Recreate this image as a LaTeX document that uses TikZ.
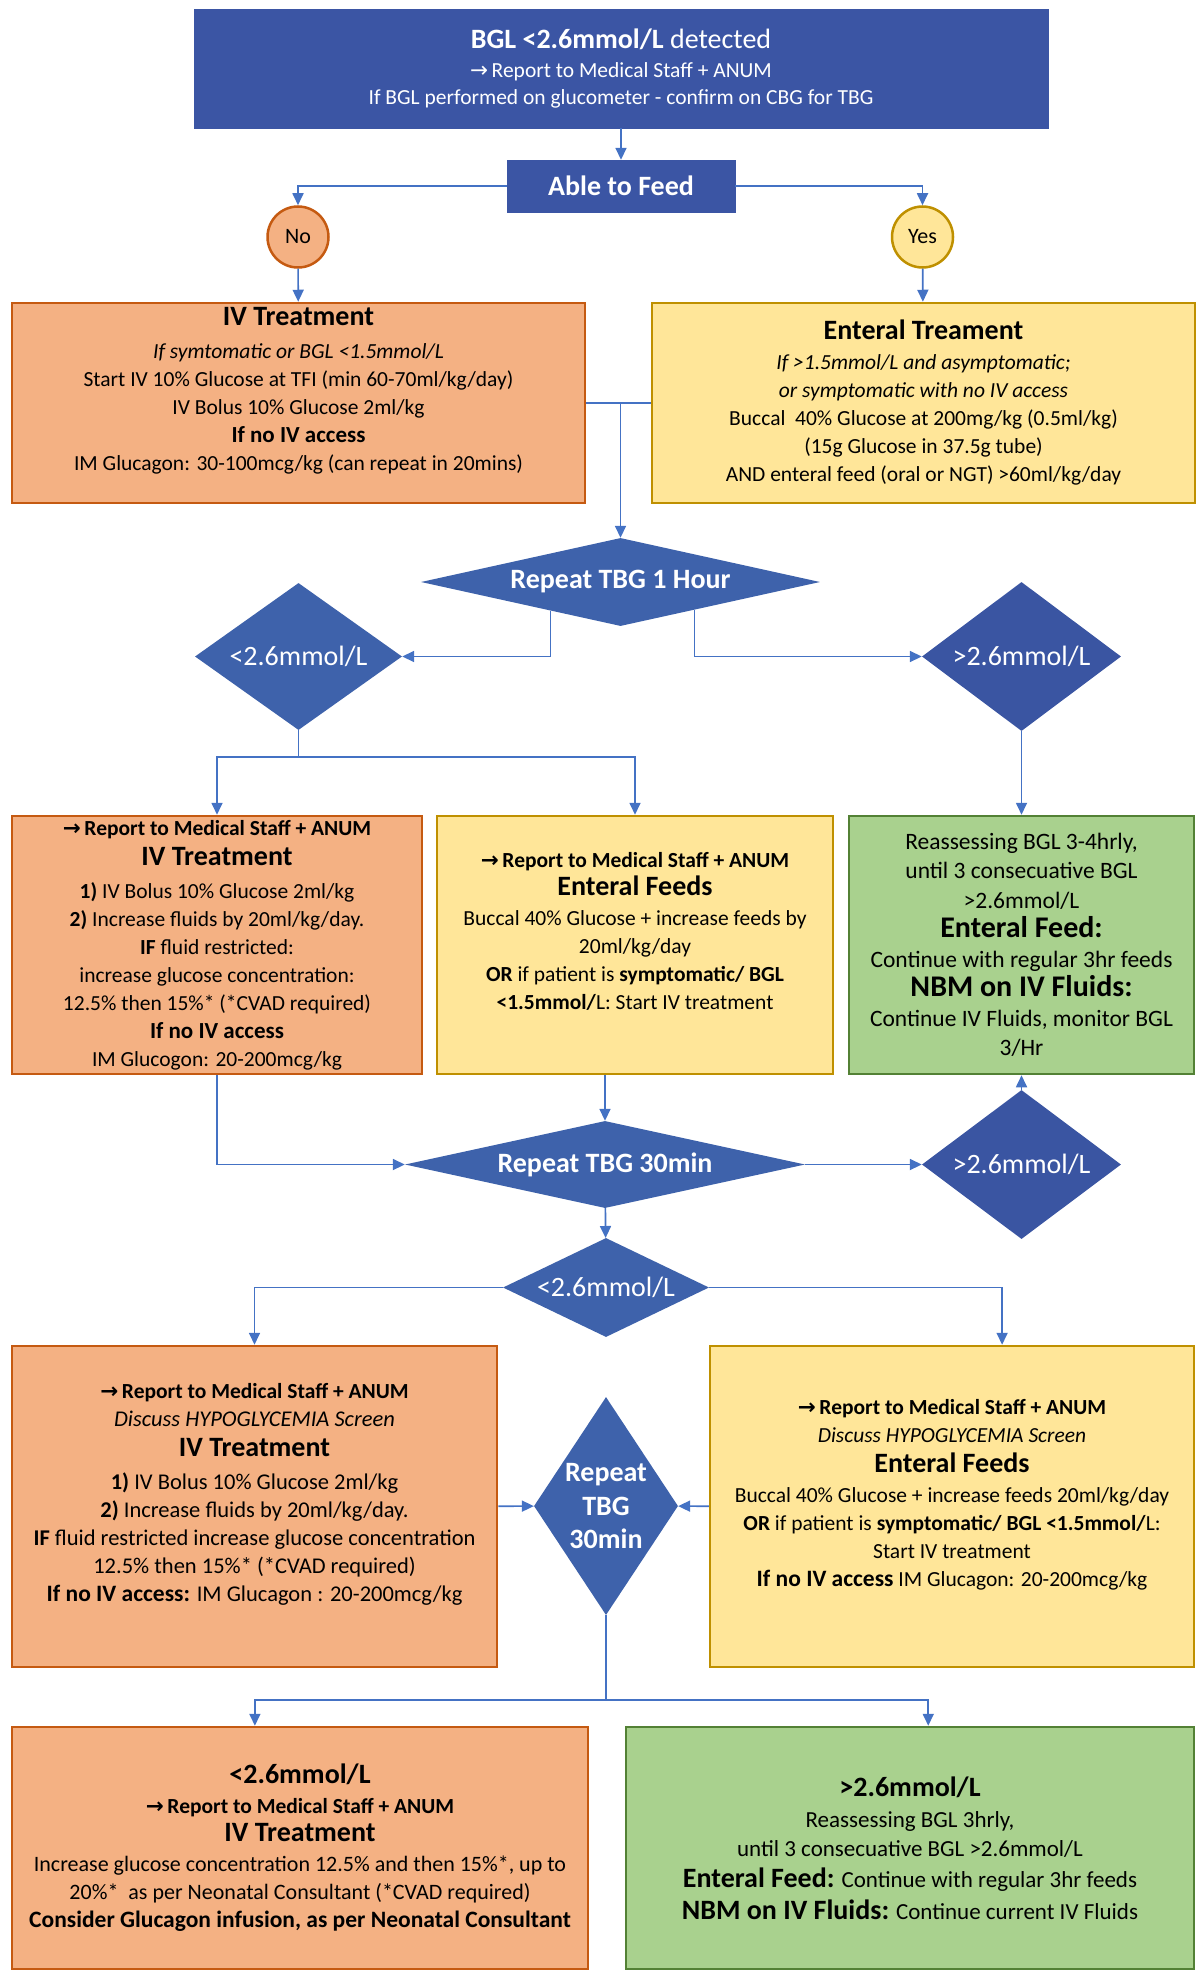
\documentclass[tikz,border=0pt]{standalone}
\usepackage{fontspec}
\setmainfont{Carlito}
\newfontfamily\arrowfont{DejaVu Sans}
\usetikzlibrary{shapes.geometric,arrows.meta,calc}

\definecolor{boxblue}{HTML}{3B55A4}
\definecolor{diablue}{HTML}{3E62AB}
\definecolor{diadark}{HTML}{3A55A2}
\definecolor{linkblue}{HTML}{4472C4}
\definecolor{ivfill}{HTML}{F4B183}
\definecolor{ivline}{HTML}{C55A11}
\definecolor{entfill}{HTML}{FFE699}
\definecolor{entline}{HTML}{BF9000}
\definecolor{okfill}{HTML}{A9D18E}
\definecolor{okline}{HTML}{538135}

\newcommand{\toreport}{{\arrowfont →}\,}
\newcommand{\bighead}[1]{{\fontsize{28}{28}\selectfont\textbf{#1}}}
\newcommand{\reportline}{{\fontsize{21.5}{28}\selectfont\textbf{\toreport Report to Medical Staff + ANUM}}}

\begin{document}
\begin{tikzpicture}
[x=1pt,y=-1pt,
  boxdecorate/.style={shape=rectangle,draw,line width=2.5pt,align=center,
    inner xsep=2pt,inner ysep=4pt,font=\fontsize{21.5}{28}\selectfont},
  ivbox/.style={boxdecorate,fill=ivfill,draw=ivline},
  entbox/.style={boxdecorate,fill=entfill,draw=entline},
  okbox/.style={boxdecorate,fill=okfill,draw=okline},
  bluebox/.style={shape=rectangle,fill=boxblue,draw=boxblue,text=white,align=center},
  diadecorate/.style={shape=diamond,text=white,inner sep=0pt,align=center,
    font=\fontsize{28}{33.5}\selectfont},
  linedecorate/.style={draw=linkblue,line width=1.7pt,-{Triangle[length=12pt,width=11pt]}},
  plainline/.style={draw=linkblue,line width=1.7pt}]
\useasboundingbox (0,0) rectangle (1198,1980);

%% start and first choice
\node (top) at (621,68.5) [bluebox,minimum width=854pt,minimum height=119pt,
  font=\fontsize{21.5}{27}\selectfont]
  {{\fontsize{28}{27}\selectfont\textbf{BGL <2.6mmol/L} detected}\\[2pt]
   \toreport Report to Medical Staff + ANUM\\
   If BGL performed on glucometer - confirm on CBG for TBG};
\node (able) at (621,186) [bluebox,minimum width=228pt,minimum height=52pt,
  font=\fontsize{28}{28}\selectfont\bfseries] {Able to Feed};
\node (no) at (298,237) [shape=circle,minimum size=61pt,inner sep=0pt,fill=ivfill,
  draw=ivline,line width=2.5pt,font=\fontsize{22}{24}\selectfont] {No};
\node (yes) at (922.5,237) [shape=circle,minimum size=61pt,inner sep=0pt,fill=entfill,
  draw=entline,line width=2.5pt,font=\fontsize{22}{24}\selectfont] {Yes};

%% first treatment
\node (iv1) at (298.5,403) [ivbox,minimum width=573pt,minimum height=200pt]
  {\bighead{IV Treatment}\\[5pt]
   \textit{If symtomatic or BGL <1.5mmol/L}\\
   Start IV 10\% Glucose at TFI (min 60-70ml/kg/day)\\
   IV Bolus 10\% Glucose 2ml/kg\\
   {\fontsize{23}{28}\selectfont\textbf{If no IV access}}\\
   IM Glucagon: 30-100mcg/kg (can repeat in 20mins)\\ \mbox{}};
\node (ent1) at (923.5,403) [entbox,minimum width=543pt,minimum height=200pt]
  {\bighead{Enteral Treament}\\[2pt]
   \textit{If >1.5mmol/L and asymptomatic;}\\
   \textit{or symptomatic with no IV access}\\
   Buccal\ \ 40\% Glucose at 200mg/kg (0.5ml/kg)\\
   (15g Glucose in 37.5g tube)\\
   AND enteral feed (oral or NGT) >60ml/kg/day};

%% decisions
\foreach \nodename/\x/\y/\w/\h/\shade/\txt in {
  rep1/620.5/582/399/88/diablue/{\textbf{Repeat TBG 1 Hour}},
  lt1/298.5/656.5/207/147/diablue/{<2.6mmol/L},
  gt1/1021.5/656.5/199/149/diadark/{>2.6mmol/L},
  rep2/605/1164.5/400/87/diablue/{\textbf{Repeat TBG 30min}},
  gt2/1021.5/1164.5/199/149/diadark/{>2.6mmol/L},
  lt2/606/1287.5/206/99/diablue/{<2.6mmol/L},
  rep3/606/1506/144/218/diablue/{\textbf{Repeat}\\\textbf{TBG}\\\textbf{30min}}} {
  \pgfmathsetmacro\ratio{\w/\h}
  \node (\nodename) at (\x,\y) [diadecorate,fill=\shade,aspect=\ratio,
    minimum width=\w pt,minimum height=\h pt] {\txt};
}

%% second treatment
\node (iv2) at (217,945) [ivbox,minimum width=410pt,minimum height=258pt]
  {\reportline\\[2pt]
   \bighead{IV Treatment}\\[5pt]
   \textbf{1)} IV Bolus 10\% Glucose 2ml/kg\\
   \textbf{2)} Increase fluids by 20ml/kg/day.\\
   \textbf{IF} fluid restricted:\\
   increase glucose concentration:\\
   12.5\% then 15\%* (*CVAD required)\\
   {\fontsize{23}{28}\selectfont\textbf{If no IV access}}\\
   IM Glucogon: 20-200mcg/kg};
\node (ent2) at (635,945) [entbox,minimum width=396pt,minimum height=258pt]
  {\reportline\\
   \bighead{Enteral Feeds}\\[2pt]
   Buccal 40\% Glucose + increase feeds by\\
   20ml/kg/day\\
   \textbf{OR} if patient is \textbf{symptomatic/ BGL}\\
   \textbf{<1.5mmol/}L: Start IV treatment\\ \mbox{}};
\node (gn2) at (1021.5,945) [okbox,minimum width=345pt,minimum height=258pt,
  font=\fontsize{23.5}{29.5}\selectfont]
  {Reassessing BGL 3-4hrly,\\
   until 3 consecuative BGL\\
   >2.6mmol/L\\
   {\fontsize{30}{29.5}\selectfont\textbf{Enteral Feed:}}\\
   Continue with regular 3hr feeds\\
   {\fontsize{30}{29.5}\selectfont\textbf{NBM on IV Fluids:}}\\
   Continue IV Fluids, monitor BGL\\
   3/Hr};

%% third treatment
\node (iv3) at (254.5,1506.5) [ivbox,minimum width=485pt,minimum height=321pt,
  font=\fontsize{22.5}{28}\selectfont]
  {\reportline\\
   \textit{Discuss HYPOGLYCEMIA Screen}\\[2pt]
   \bighead{IV Treatment}\\[5pt]
   \textbf{1)} IV Bolus 10\% Glucose 2ml/kg\\
   \textbf{2)} Increase fluids by 20ml/kg/day.\\
   \textbf{IF} fluid restricted increase glucose concentration\\
   12.5\% then 15\%* (*CVAD required)\\
   {\fontsize{23.5}{28}\selectfont\textbf{If no IV access:}} IM Glucagon : 20-200mcg/kg\\ \mbox{}};
\node (ent3) at (952,1506.5) [entbox,minimum width=484pt,minimum height=321pt]
  {\reportline\\
   \textit{Discuss HYPOGLYCEMIA Screen}\\[2pt]
   \bighead{Enteral Feeds}\\[2pt]
   Buccal 40\% Glucose + increase feeds 20ml/kg/day\\
   \textbf{OR} if patient is \textbf{symptomatic/ BGL <1.5mmol/}L:\\
   Start IV treatment\\
   {\fontsize{23.5}{28}\selectfont\textbf{If no IV access}} IM Glucagon: 20-200mcg/kg\\ \mbox{}};

%% outcome
\node (iv4) at (300,1848) [ivbox,minimum width=576pt,minimum height=242pt,
  font=\fontsize{22}{28}\selectfont]
  {\bighead{<2.6mmol/L}\\[2pt]
   \reportline\\
   \bighead{IV Treatment}\\[2pt]
   Increase glucose concentration 12.5\% and then 15\%*, up to\\
   20\%*\ \ as per Neonatal Consultant (*CVAD required)\\
   {\fontsize{23.5}{28}\selectfont\textbf{Consider Glucagon infusion, as per Neonatal Consultant}}};
\node (gn4) at (910,1848) [okbox,minimum width=568pt,minimum height=242pt,
  font=\fontsize{23}{29}\selectfont]
  {\bighead{>2.6mmol/L}\\[2pt]
   Reassessing BGL 3hrly,\\
   until 3 consecuative BGL >2.6mmol/L\\[2pt]
   \bighead{Enteral Feed:} Continue with regular 3hr feeds\\[3pt]
   \bighead{NBM on IV Fluids:} Continue current IV Fluids};

%% helper points
\coordinate (r1l) at ($(rep1.west)!0.65!(rep1.south)$);
\coordinate (r1r) at ($(rep1.south)!0.37!(rep1.east)$);
\coordinate (split1) at (298.5,757);
\coordinate (ent3top) at ($(ent3.north west)!0.603!(ent3.north east)$);
\coordinate (split3) at (606,1700);
\coordinate (iv4top) at ($(iv4.north west)!0.422!(iv4.north east)$);
\coordinate (gn4top) at ($(gn4.north west)!0.532!(gn4.north east)$);

%% connectors
\path
\foreach \startnode/\endnode in {top/able, no/iv1, yes/ent1, gt1/gn2,
  rep2/gt2, gt2/gn2, rep2/lt2, iv3/rep3, ent3/rep3} {
  (\startnode) edge[linedecorate] (\endnode)
};
\draw[linedecorate] (able.west) -| (no.north);
\draw[linedecorate] (able.east) -| (yes.north);
\draw[plainline] (iv1.east) -- (ent1.west);
\draw[linedecorate] (rep1.north |- iv1.east) -- (rep1.north);
\draw[linedecorate] (r1l) |- (lt1.east);
\draw[linedecorate] (r1r) |- (gt1.west);
\draw[plainline] (lt1.south) -- (split1);
\draw[linedecorate] (split1) -| (iv2.north);
\draw[linedecorate] (split1) -| (ent2.north);
\draw[linedecorate] (iv2.south) |- (rep2.west);
\draw[linedecorate] (rep2.north |- ent2.south) -- (rep2.north);
\draw[linedecorate] (lt2.west) -| (iv3.north);
\draw[linedecorate] (lt2.east) -| (ent3top);
\draw[plainline] (rep3.south) -- (split3);
\draw[linedecorate] (split3) -| (iv4top);
\draw[linedecorate] (split3) -| (gn4top);
\end{tikzpicture}
\end{document}
